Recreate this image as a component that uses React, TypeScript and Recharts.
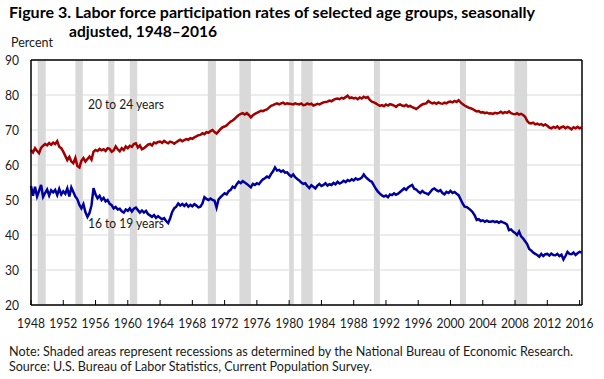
import React from 'react';
import { LineChart, Line, XAxis, YAxis, CartesianGrid, ReferenceArea, ReferenceLine } from 'recharts';

// Quarterly observations starting 1948 Q1
const START_YEAR = 1948;
const STEP = 0.25;

const age20to24 = [
  64.3, 63.6, 64.8, 64.0, 63.4, 64.9, 65.5, 66.0, 65.6, 66.3, 65.8, 66.4, 66.0, 66.8, 65.2, 64.8,
  63.8, 62.6, 61.4, 62.3, 61.0, 60.5, 62.0, 59.7, 59.3, 61.2, 62.0, 61.0, 61.7, 62.4, 61.5, 63.8,
  64.3, 64.0, 64.6, 64.2, 64.5, 64.0, 64.8, 64.6, 63.8, 64.2, 65.3, 64.5, 63.9, 64.8, 64.3, 65.3,
  64.8, 65.5, 65.2, 66.0, 66.2, 65.0, 65.6, 64.5, 64.8, 65.3, 65.8, 66.0, 65.6, 66.4, 66.2, 66.6,
  66.7, 66.3, 66.9, 66.5, 66.2, 66.7, 66.5, 66.1, 66.5, 66.9, 67.2, 66.8, 67.1, 67.4, 67.2, 67.7,
  67.5, 67.9, 68.2, 68.5, 68.6, 69.1, 68.8, 69.4, 69.2, 69.7, 70.0, 69.4, 69.0, 69.6, 70.3, 70.8,
  71.0, 71.3, 71.9, 72.4, 72.7, 73.2, 73.8, 74.3, 74.6, 74.8, 74.4, 74.8, 74.3, 73.6, 74.2, 74.6,
  74.9, 75.2, 75.5, 75.4, 75.7, 75.9, 76.4, 76.9, 77.1, 77.4, 77.6, 77.3, 77.6, 77.8, 77.4, 77.6,
  77.5, 77.4, 77.3, 77.6, 77.4, 77.3, 77.6, 77.1, 77.2, 77.6, 77.3, 77.5, 77.0, 77.2, 77.5, 77.3,
  77.6, 77.9, 78.0, 78.1, 78.4, 78.2, 78.6, 78.9, 79.0, 78.8, 79.2, 79.0, 79.4, 79.8, 79.1, 79.3,
  79.0, 79.2, 78.8, 79.3, 79.0, 79.5, 79.2, 79.4, 78.6, 78.1, 77.9, 77.6, 77.2, 76.9, 77.1, 76.8,
  77.3, 77.0, 77.4, 77.2, 77.0, 76.6, 77.1, 77.3, 77.0, 76.8, 77.2, 76.7, 76.9, 76.5, 76.3, 76.0,
  76.4, 76.9, 77.3, 77.5, 77.6, 78.3, 77.9, 77.6, 77.8, 77.5, 77.9, 77.6, 77.5, 77.8, 77.6, 78.0,
  78.1, 77.9, 78.3, 78.0, 78.5, 77.9, 77.4, 77.0, 76.7, 76.4, 76.2, 76.0, 75.6, 75.3, 75.4, 75.0,
  75.1, 74.8, 75.0, 74.7, 74.8, 74.6, 74.9, 74.7, 74.9, 75.2, 74.8, 75.1, 74.9, 75.3, 74.8, 74.6,
  74.5, 74.8, 74.4, 74.6, 74.3, 73.8, 72.6, 72.0, 71.9, 72.1, 71.6, 71.8, 71.5, 71.7, 71.3, 71.6,
  71.2, 70.7, 70.5, 70.9, 70.6, 71.0, 70.4, 70.8, 71.0, 70.5, 70.9, 70.6, 70.2, 70.8, 70.5, 70.9,
  70.5, 70.7,
];

const age16to19 = [
  54.0, 51.2, 53.8, 51.0, 52.6, 54.3, 50.9, 52.0, 53.0, 51.3, 52.8, 52.2, 52.9, 51.4, 53.2, 51.6,
  52.5, 51.8, 53.3, 51.0, 53.6, 52.3, 51.0, 50.2, 48.6, 47.6, 48.8, 46.5, 45.2, 46.3, 48.5, 53.4,
  51.6, 50.5, 51.2, 50.0, 50.6, 49.6, 50.0, 48.9, 48.5, 47.6, 48.0, 47.3, 47.5, 46.8, 46.4, 47.3,
  46.9, 47.6, 46.7, 47.5, 47.8, 47.1, 46.4, 47.0, 46.4, 46.9, 46.0, 45.6, 45.2, 45.7, 44.9, 45.4,
  44.9, 44.5, 44.8, 44.0, 43.4, 44.8, 46.6, 47.6, 48.1, 49.0, 48.4, 48.9, 48.3, 48.9, 48.1, 48.6,
  48.2, 48.8, 48.4, 47.9, 48.1, 49.0, 50.8, 50.3, 50.0, 50.4, 50.0, 49.8, 47.8, 50.2, 50.8, 51.4,
  51.9, 51.6, 52.5, 52.9, 53.8, 53.5, 54.5, 55.2, 54.8, 55.4, 55.0, 54.6, 54.1, 53.6, 54.6, 54.3,
  54.8, 54.5, 55.3, 55.9, 56.2, 56.7, 56.4, 57.4, 58.2, 59.3, 58.4, 58.6, 58.1, 58.4, 57.8, 57.9,
  57.2, 56.7, 57.3, 56.5, 56.0, 55.6, 55.0, 54.6, 54.8, 54.0, 53.4, 54.2, 53.8, 53.3, 54.1, 54.6,
  54.0, 54.3, 54.8, 54.1, 54.5, 54.3, 54.9, 54.5, 55.2, 54.7, 55.0, 55.5, 55.1, 55.7, 55.4, 55.9,
  55.6, 56.2, 55.8, 56.0, 56.4, 57.3, 56.5, 56.0, 55.5, 55.2, 54.2, 53.2, 52.4, 51.8, 51.3, 51.0,
  51.3, 50.8, 51.6, 51.4, 51.9, 51.5, 51.8, 52.3, 52.8, 53.3, 52.9, 53.6, 54.0, 54.3, 53.2, 53.0,
  52.4, 52.0, 52.6, 52.1, 51.9, 51.6, 52.3, 53.0, 53.3, 52.8, 52.5, 52.8, 52.0, 51.6, 52.3, 52.0,
  52.6, 52.0, 52.3, 51.8, 51.4, 50.2, 49.0, 48.1, 48.0, 47.6, 47.1, 46.5, 45.6, 44.3, 44.5, 44.0,
  44.2, 43.8, 44.1, 43.8, 43.8, 44.0, 43.7, 43.9, 43.5, 43.9, 43.6, 43.4, 43.0, 41.4, 41.6, 41.0,
  40.6, 40.0, 41.0, 39.6, 39.0, 38.2, 37.4, 36.0, 35.6, 35.0, 34.6, 34.3, 33.8, 34.6, 34.0, 34.5,
  34.6, 34.1, 34.7, 34.3, 34.2, 34.6, 34.0, 34.4, 33.0, 34.0, 35.2, 34.6, 34.5, 35.0, 34.3, 34.8,
  35.2, 35.0,
];

const xTicks = [1948, 1952, 1956, 1960, 1964, 1968, 1972, 1976, 1980, 1984, 1988, 1992, 1996, 2000, 2004, 2008, 2012, 2016];
const yTicks = [20, 30, 40, 50, 60, 70, 80, 90];

// NBER recessions (start, end) in fractional years
const recessionStarts = [1948.83, 1953.5, 1957.58, 1960.25, 1969.92, 1973.83, 1980.0, 1981.5, 1990.5, 2001.17, 2007.92];
const recessionEnds = [1949.83, 1954.42, 1958.33, 1961.17, 1970.92, 1975.25, 1980.58, 1982.92, 1991.25, 2001.92, 2009.5];

const X_MAX = 2016.3;

const data = age20to24.map((v, i) => ({
  t: START_YEAR + i * STEP,
  a: v,
  b: age16to19[i],
}));

const FONT = "Lato, 'Open Sans', sans-serif";
const TEXT = '#1a1a1a';

const XTick = (props: any) => {
  const { x, y, payload } = props;
  return (
    <g>
      <line x1={x} x2={x} y1={y - 5} y2={y} stroke="#000" strokeWidth={1} />
      <text x={x} y={y + 23} textAnchor="middle" fontFamily={FONT} fontSize={13.5} fill={TEXT}
        textLength={28} lengthAdjust="spacingAndGlyphs">
        {payload.value}
      </text>
    </g>
  );
};

const YTick = (props: any) => {
  const { x, y, payload } = props;
  return (
    <text x={x} y={y + 5} textAnchor="end" fontFamily={FONT} fontSize={13.5} fill={TEXT}
      textLength={14} lengthAdjust="spacingAndGlyphs">
      {payload.value}
    </text>
  );
};

export default function App() {
  return (
    <div style={{ position: 'absolute', left: 0, top: 0, width: 604, height: 379, background: '#fff' }}>
      <LineChart
        width={604}
        height={379}
        data={data}
        margin={{ top: 60, right: 22, bottom: 54, left: 0 }}
      >
        <CartesianGrid vertical={false} stroke="#d9d9d9" strokeWidth={1} />
        {recessionStarts.map((s, i) => (
          <ReferenceArea key={i} x1={s} x2={recessionEnds[i]} y1={20} y2={90} fill="#d9d9d9" fillOpacity={1} stroke="none" />
        ))}
        <XAxis
          dataKey="t"
          type="number"
          domain={[1948, X_MAX]}
          ticks={xTicks}
          interval={0}
          height={20}
          tickSize={0}
          tickMargin={0}
          tickLine={false}
          axisLine={{ stroke: '#000', strokeWidth: 1.5 }}
          tick={<XTick />}
        />
        <YAxis
          domain={[20, 90]}
          ticks={yTicks}
          interval={0}
          width={31}
          tickSize={0}
          tickMargin={12}
          tickLine={false}
          axisLine={{ stroke: '#000', strokeWidth: 1.5 }}
          tick={<YTick />}
        />
        <Line type="linear" dataKey="a" stroke="#a00000" strokeWidth={2.5} dot={false} isAnimationActive={false} />
        <Line type="linear" dataKey="b" stroke="#00009c" strokeWidth={2.5} dot={false} isAnimationActive={false} />
        <ReferenceLine y={90} stroke="#000" strokeWidth={1.5} />
        <ReferenceLine x={X_MAX} stroke="#000" strokeWidth={1.5} />
      </LineChart>
      <svg width={604} height={379} style={{ position: 'absolute', left: 0, top: 0, pointerEvents: 'none' }}>
        <g fontFamily={FONT} fill="#000">
          <text x={9} y={18} fontSize={15.5} fontWeight="bold" textLength={526} lengthAdjust="spacingAndGlyphs">
            Figure 3. Labor force participation rates of selected age groups, seasonally
          </text>
          <text x={69} y={37} fontSize={15.5} fontWeight="bold" textLength={148} lengthAdjust="spacingAndGlyphs">
            adjusted, 1948–2016
          </text>
          <text x={11} y={47} fontSize={12.5} fill={TEXT} textLength={42} lengthAdjust="spacingAndGlyphs">Percent</text>
          <text x={88} y={109} fontSize={13.5} fill={TEXT} textLength={76} lengthAdjust="spacingAndGlyphs">20 to 24 years</text>
          <text x={88} y={228} fontSize={13.5} fill={TEXT} textLength={76} lengthAdjust="spacingAndGlyphs">16 to 19 years</text>
          <text x={9} y={356} fontSize={13} fill={TEXT} textLength={564} lengthAdjust="spacingAndGlyphs">
            Note: Shaded areas represent recessions as determined by the National Bureau of Economic Research.
          </text>
          <text x={9} y={371} fontSize={13} fill={TEXT} textLength={363} lengthAdjust="spacingAndGlyphs">
            Source: U.S. Bureau of Labor Statistics, Current Population Survey.
          </text>
        </g>
      </svg>
    </div>
  );
}
